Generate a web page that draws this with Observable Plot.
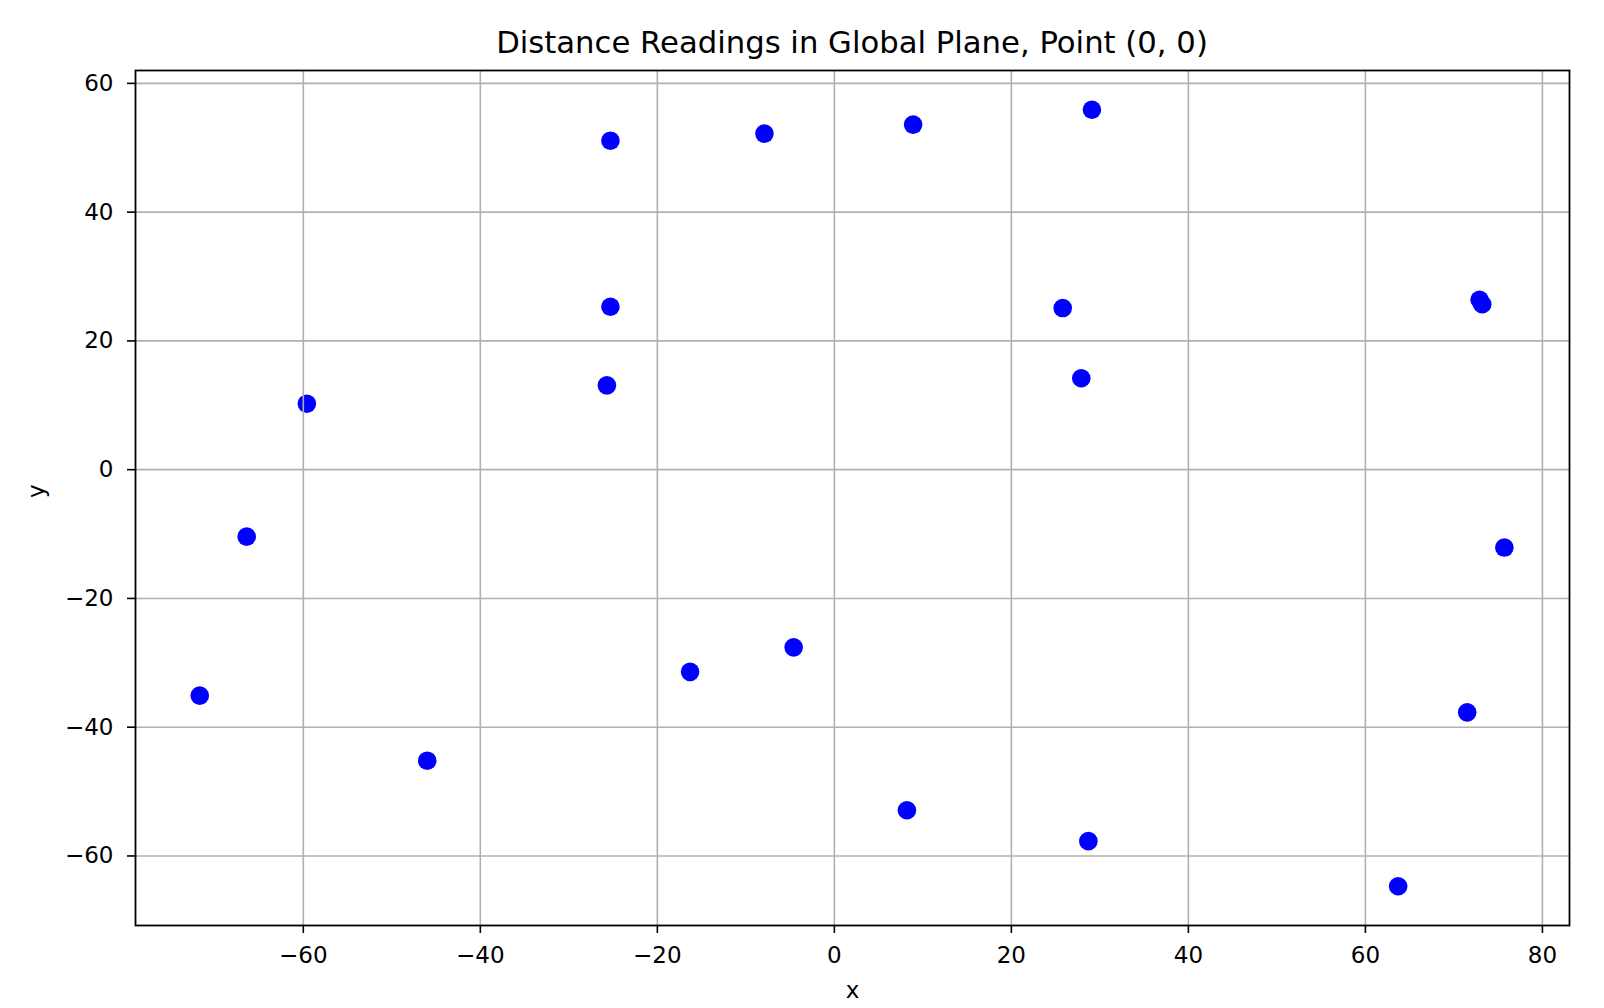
<!DOCTYPE html>
<html><head><meta charset="utf-8">
<script src="https://cdn.jsdelivr.net/npm/d3@7"></script>
<script src="https://cdn.jsdelivr.net/npm/@observablehq/plot@0.6"></script>
<style>
body{margin:0;background:#fff;font-family:"DejaVu Sans",sans-serif;}
#title{box-sizing:border-box;width:1604px;height:62px;padding:28px 35px 0 135px;font-size:30.7px;line-height:30px;text-align:center;color:#000;white-space:nowrap;}
</style></head><body>
<div id="title">Distance Readings in Global Plane, Point (0, 0)</div>
<div id="chart"></div>
<script>
const xs = [-25.3, -7.9, 8.9, 29.1, -25.3, 25.8, 72.9, 73.2, -25.7, 27.9, -59.6, -66.4, 75.7, -71.7, -16.3, -4.6, -46.0, 8.2, 28.7, 63.7, 71.5];
const ys = [51.1, 52.2, 53.6, 55.9, 25.3, 25.1, 26.4, 25.7, 13.1, 14.2, 10.25, -10.4, -12.1, -35.1, -31.4, -27.6, -45.2, -52.9, -57.7, -64.7, -37.7];
const xTicks = [-60, -40, -20, 0, 20, 40, 60, 80];
const yTicks = [-60, -40, -20, 0, 20, 40, 60];
const xDomain = [-78.96, 83.06];
const yDomain = [-70.8, 62.0];
const points = xs.map((x, i) => ({x, y: ys[i]}));
const fmt = d => d < 0 ? "\u2212" + Math.abs(d) : String(d);

const chart = Plot.plot({
  width: 1604, height: 946,
  marginTop: 8, marginBottom: 83, marginLeft: 135, marginRight: 35,
  style: {fontFamily: "DejaVu Sans", fontSize: "23px", color: "#000", background: "#fff"},
  x: {domain: xDomain},
  y: {domain: yDomain},
  marks: [
    Plot.dot(points, {x: "x", y: "y", r: 9.3, fill: "#0000ff", stroke: null}),
    Plot.gridX(xTicks, {stroke: "#b0b0b0", strokeOpacity: 1, strokeWidth: 1.6}),
    Plot.gridY(yTicks, {stroke: "#b0b0b0", strokeOpacity: 1, strokeWidth: 1.6}),
    Plot.frame({stroke: "#000", strokeWidth: 1.8}),
    Plot.axisX(xTicks, {tickSize: 8, tickPadding: 13, fontSize: 23, strokeWidth: 1.6, label: null, tickFormat: fmt}),
    Plot.axisY(yTicks, {tickSize: 8, tickPadding: 14, fontSize: 23, strokeWidth: 1.6, label: null, tickFormat: fmt}),
    Plot.text(["x"], {text: d => d, frameAnchor: "bottom", dy: 72, fontSize: 23}),
    Plot.text(["y"], {text: d => d, frameAnchor: "left", dx: -99, rotate: -90, fontSize: 23})
  ]
});
document.getElementById("chart").appendChild(chart);
</script>
</body></html>
